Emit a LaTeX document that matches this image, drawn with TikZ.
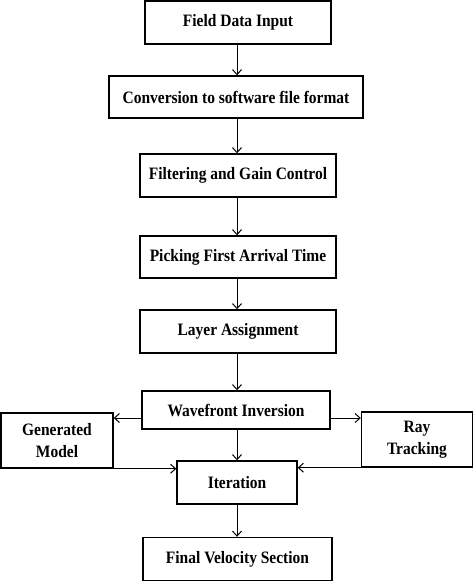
\documentclass[tikz,border=0pt]{standalone}
\usepackage{fontspec}
\setmainfont{Liberation Serif}[FakeStretch=0.89]
\usetikzlibrary{arrows.meta}
\begin{document}
\begin{tikzpicture}[x=1pt,y=-1pt,
  box/.style={draw, line width=1.4pt, rectangle, inner sep=0pt, align=center, font=\fontsize{17.4}{21.5}\selectfont\bfseries},
  arr/.style={line width=1pt, -{Straight Barb[length=5pt,width=9pt,line width=1pt]}}]
\useasboundingbox (0,0) rectangle (474,582);
\node[box, minimum width=186pt, minimum height=43pt] (fdi) at (238,22.5) {Field Data Input};
\node[box, minimum width=254pt, minimum height=42pt] (conv) at (236,97) {Conversion to software file format};
\node[box, minimum width=196pt, minimum height=43pt] (filt) at (238,175.5) {Filtering and Gain Control};
\node[box, minimum width=196pt, minimum height=42pt] (pick) at (238,257) {Picking First Arrival Time};
\node[box, minimum width=196pt, minimum height=43pt] (layer) at (238,331.5) {Layer Assignment};
\node[box, minimum width=188pt, minimum height=38pt] (wf) at (236,410) {Wavefront Inversion};
\node[box, minimum width=112pt, minimum height=55pt] (gen) at (57,440.5) {Generated\\Model};
\node[box, minimum width=111pt, minimum height=55pt] (ray) at (417,439.5) {Ray\\Tracking};
\node[box, minimum width=120pt, minimum height=43pt] (it) at (237,482.5) {Iteration};
\node[box, minimum width=189pt, minimum height=43pt] (fin) at (237.5,559) {Final Velocity Section};
\draw[arr] (fdi.south -| 237,0) -- (conv.north -| 237,0);
\draw[arr] (conv.south -| 237,0) -- (filt.north -| 237,0);
\draw[arr] (filt.south -| 237,0) -- (pick.north -| 237,0);
\draw[arr] (pick.south -| 237,0) -- (layer.north -| 237,0);
\draw[arr] (layer.south -| 237,0) -- (wf.north -| 237,0);
\draw[arr] (wf.south -| 237,0) -- (it.north -| 237,0);
\draw[arr] (it.south -| 237,0) -- (fin.north -| 237,0);
\draw[arr] ([yshift=-8pt]wf.west) -- ([yshift=-8pt]wf.west -| gen.east);
\draw[arr] ([yshift=-8pt]wf.east) -- ([yshift=-8pt]wf.east -| ray.west);
\draw[arr] (gen.south east) -- (gen.south east -| it.west);
\draw[arr] (ray.south west) -- (ray.south west -| it.east);
\end{tikzpicture}
\end{document}
